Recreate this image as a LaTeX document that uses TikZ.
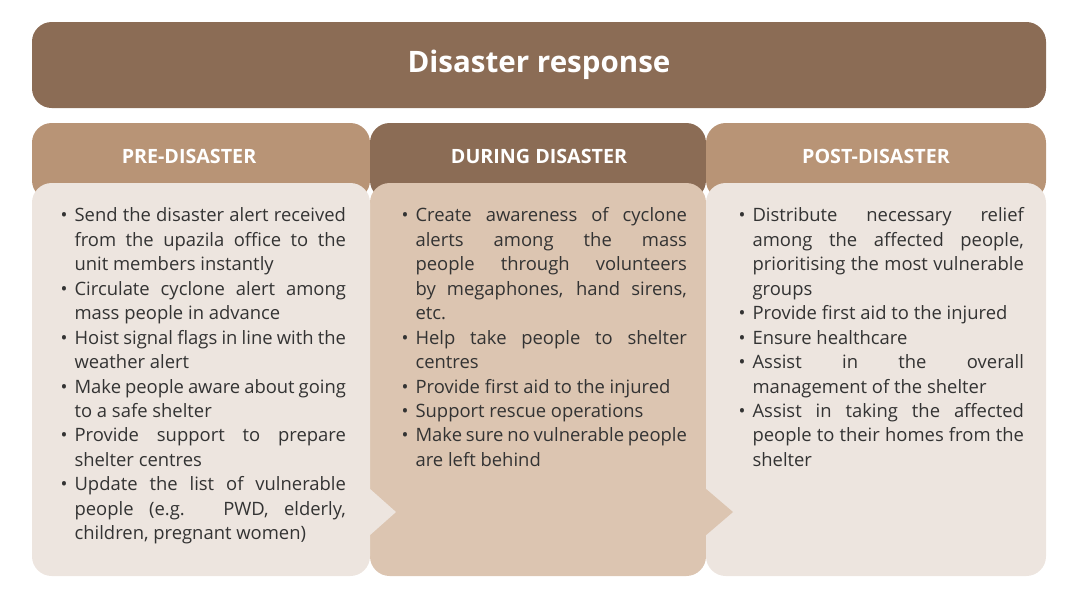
\documentclass[tikz,border=0pt]{standalone}
\usepackage{fontspec}
\setmainfont{Open Sans}
\usepackage{enumitem}
\definecolor{darkbrown}{HTML}{8B6C55}
\definecolor{tanbrown}{HTML}{B89476}
\definecolor{midfill}{HTML}{DCC5B1}
\definecolor{lightfill}{HTML}{EDE5DF}
\tikzset{
  card/.style={rounded corners=14},
  headtext/.style={text=white,font=\bfseries\fontsize{14}{17}\selectfont},
  listtext/.style={anchor=north west,text width=206pt,inner sep=0pt,align=justify,
    text=black!80,font=\fontsize{13.1}{17.4}\selectfont}
}
\newcommand{\pointlist}[1]{\hyphenpenalty=10000\relax\exhyphenpenalty=10000\relax%
  \begin{itemize}[leftmargin=13pt,labelsep=5pt,itemsep=0pt,topsep=0pt,parsep=0pt,partopsep=0pt]#1\end{itemize}}
\begin{document}
\begin{tikzpicture}[x=0.025cm,y=-0.025cm]
        \useasboundingbox (0,0) rectangle (1080,594);
        \fill[darkbrown,card] (32,22) rectangle (1046,108);
        \node[text=white,font=\bfseries\fontsize{21}{25}\selectfont] (title) at (539,65) {Disaster response};
        % column headers
        \fill[tanbrown,card] (32,123) rectangle (370,200);
        \fill[darkbrown,card] (370,123) rectangle (706,200);
        \fill[tanbrown,card] (706,123) rectangle (1046,200);
        \node[headtext] (pre) at (189,156) {PRE-DISASTER};
        \node[headtext] (during) at (539,156) {DURING DISASTER};
        \node[headtext] (post) at (876,156) {POST-DISASTER};
        % column bodies
        \fill[midfill,card] (370,183) rectangle (706,576);
        \fill[lightfill,card] (32,183) rectangle (370,576);
        \fill[lightfill,card] (706,183) rectangle (1046,576);
        \fill[lightfill] (369,488) -- (396,512) -- (369,536) -- cycle;
        \fill[midfill] (705,488) -- (733,512) -- (705,536) -- cycle;
        % lists
        \node[listtext] (prelist) at (56,197) {\pointlist{
          \item Send the disaster alert received from the upazila office to the unit members instantly
          \item Circulate cyclone alert among mass people in advance
          \item Hoist signal flags in line with the weather alert
          \item Make people aware about going to a safe shelter
          \item Provide support to prepare shelter centres
          \item Update the list of vulnerable people (e.g. PWD, elderly, children, pregnant women)}};
        \node[listtext] (duringlist) at (397,197) {\pointlist{
          \item Create awareness of cyclone alerts among the mass people through volunteers by megaphones, hand sirens, etc.
          \item Help take people to shelter centres
          \item Provide first aid to the injured
          \item Support rescue operations
          \item Make sure no vulnerable people are left behind}};
        \node[listtext] (postlist) at (734,197) {\pointlist{
          \item Distribute necessary relief among the affected people, prioritising the most vulnerable groups
          \item Provide first aid to the injured
          \item Ensure healthcare
          \item Assist in the overall management of the shelter
          \item Assist in taking the affected people to their homes from the shelter}};
\end{tikzpicture}
\end{document}
